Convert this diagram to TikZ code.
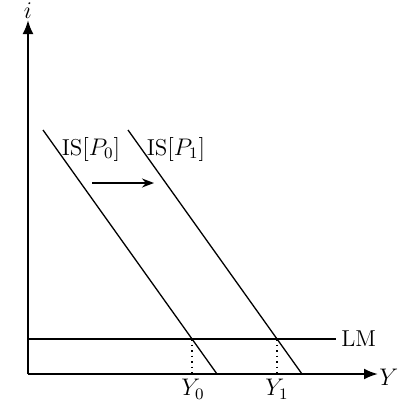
\documentclass[tikz,border=0pt]{standalone}
\usetikzlibrary{arrows.meta}
\begin{document}
\begin{tikzpicture}[x=0.5pt,y=-0.5pt,
  axis/.style={line width=1.1pt,-{Latex[length=7pt,width=5.5pt]}},
  curve/.style={line width=0.65pt},
  guide/.style={line width=0.75pt,dotted},
  lbl/.style={inner sep=1pt,font=\fontsize{11.5}{13}\selectfont}]
\useasboundingbox (0,0) rectangle (413,413);
\coordinate (O) at (28,374);
\coordinate (ytop) at (28,20);
\coordinate (xend) at (378,374);
\draw[axis] (O) -- (ytop);
\draw[axis] (O) -- (xend);
\node[lbl] (ilbl) at (28,11) {$i$};
\node[lbl,anchor=west] (Ylbl) at (377,377) {$Y$};
% IS curves
\coordinate (a0) at (43,130); \coordinate (b0) at (217,374);
\coordinate (a1) at (128,130); \coordinate (b1) at (302,374);
\draw[curve] (a0) -- (b0);
\draw[curve] (a1) -- (b1);
% LM
\coordinate (lm0) at (28,339); \coordinate (lm1) at (336,339);
\draw[curve] (lm0) -- (lm1);
\node[lbl,anchor=west] (LM) at (339,339) {LM};
% intersections
\coordinate (e0) at (192,339); \coordinate (f0) at (192,374);
\coordinate (e1) at (277,339); \coordinate (f1) at (277,374);
\draw[guide] (e0) -- (f0);
\draw[guide] (e1) -- (f1);
\node[lbl] (Y0) at (193,389) {$Y_0$};
\node[lbl] (Y1) at (277,389) {$Y_1$};
% labels
\node[lbl] (IS0) at (91,149) {IS$[P_0]$};
\node[lbl] (IS1) at (176,149) {IS$[P_1]$};
\coordinate (s) at (92,183); \coordinate (t) at (154,183);
\draw[line width=0.8pt,-{Stealth[length=6pt,width=4.5pt]}] (s) -- (t);
\end{tikzpicture}
\end{document}
